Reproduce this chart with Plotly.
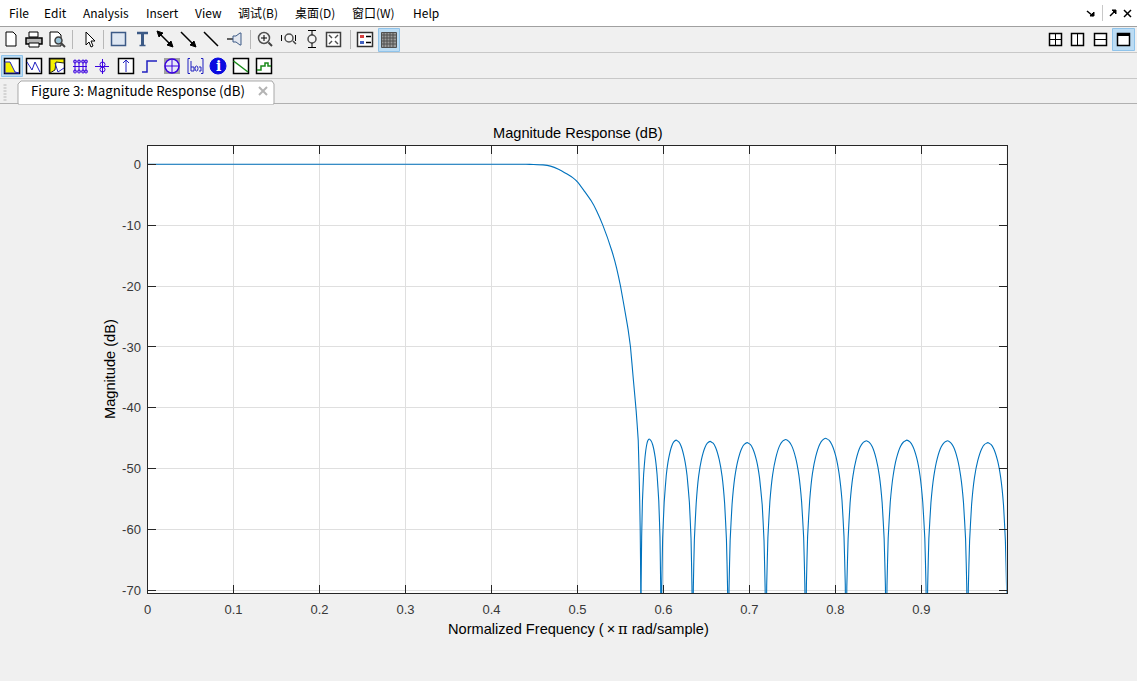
"""Magnitude response (dB) of a lowpass filter, shown inside an fvtool-style window."""

import plotly.graph_objects as go

W, H = 1137, 681

# ─── Data ────────────────────────────────────────────────────
pass_x = [0, 0.1, 0.2, 0.3, 0.4, 0.44, 0.449, 0.46, 0.4686, 0.478, 0.488, 0.4945, 0.5008, 0.508, 0.516,
          0.5225, 0.5295, 0.54, 0.5455, 0.5501, 0.557, 0.559, 0.5617, 0.565, 0.5683, 0.5707, 0.5716, 0.5724,
          0.573, 0.5734, 0.5736, 0.5737]
pass_db = [0, 0, 0, 0, 0, 0, -0.03, -0.1, -0.3, -0.8, -1.6, -2.2, -3.0, -4.4, -6.0,
           -7.7, -10, -14.2, -17, -20, -25.5, -27.2, -30, -35.3, -40.5, -45.3, -50, -55,
           -60, -65, -70, -85]

lobe_x = [
    [0.5741, 0.5747, 0.5756, 0.577, 0.5786, 0.5805, 0.5818, 0.5834, 0.5856, 0.5876, 0.5904, 0.5926, 0.5946, 0.596, 0.5968, 0.5974],
    [0.5981, 0.5991, 0.6009, 0.6033, 0.6061, 0.6096, 0.612, 0.6148, 0.6179, 0.6206, 0.6244, 0.6275, 0.6302, 0.6321, 0.6332, 0.634],
    [0.6348, 0.636, 0.6381, 0.6409, 0.6442, 0.6483, 0.6511, 0.6544, 0.6578, 0.6607, 0.6649, 0.6683, 0.6712, 0.6733, 0.6746, 0.6754],
    [0.6763, 0.6776, 0.6798, 0.6829, 0.6865, 0.6909, 0.694, 0.6975, 0.701, 0.704, 0.7084, 0.7118, 0.7149, 0.717, 0.7183, 0.7192],
    [0.7201, 0.7215, 0.7238, 0.727, 0.7307, 0.7352, 0.7384, 0.7421, 0.7458, 0.7491, 0.7538, 0.7575, 0.7607, 0.7631, 0.7645, 0.7654],
    [0.7663, 0.7677, 0.7701, 0.7733, 0.7771, 0.7817, 0.785, 0.7887, 0.7925, 0.7958, 0.8006, 0.8043, 0.8077, 0.81, 0.8115, 0.8124],
    [0.8133, 0.8148, 0.8171, 0.8204, 0.8242, 0.8289, 0.8322, 0.836, 0.8397, 0.8429, 0.8475, 0.8512, 0.8544, 0.8567, 0.8582, 0.859],
    [0.86, 0.8614, 0.8638, 0.8672, 0.871, 0.8758, 0.8792, 0.883, 0.8867, 0.89, 0.8947, 0.8984, 0.9016, 0.904, 0.9054, 0.9063],
    [0.9073, 0.9087, 0.9111, 0.9145, 0.9183, 0.9231, 0.9265, 0.9303, 0.934, 0.9373, 0.942, 0.9457, 0.949, 0.9514, 0.9528, 0.9537],
    [0.9546, 0.9561, 0.9584, 0.9617, 0.9655, 0.9702, 0.9735, 0.9773, 0.9809, 0.9841, 0.9887, 0.9923, 0.9955, 0.9977, 0.9991, 1.0],
]
lobe_db = [
    [-69.1, -61.2, -55.3, -50.9, -48.1, -46.1, -45.4, -45.1, -45.4, -46.1, -48.1, -50.9, -55.3, -61.2, -69.1, -85],
    [-69.3, -61.4, -55.5, -51.1, -48.3, -46.3, -45.6, -45.3, -45.6, -46.3, -48.3, -51.1, -55.5, -61.4, -69.3, -85],
    [-69.5, -61.6, -55.7, -51.3, -48.5, -46.5, -45.8, -45.5, -45.8, -46.5, -48.5, -51.3, -55.7, -61.6, -69.5, -85],
    [-69.7, -61.8, -55.9, -51.5, -48.7, -46.7, -46.0, -45.7, -46.0, -46.7, -48.7, -51.5, -55.9, -61.8, -69.7, -85],
    [-69.2, -61.3, -55.4, -51.0, -48.2, -46.2, -45.5, -45.2, -45.5, -46.2, -48.2, -51.0, -55.4, -61.3, -69.2, -85],
    [-69.0, -61.1, -55.2, -50.8, -48.0, -46.0, -45.3, -45.0, -45.3, -46.0, -48.0, -50.8, -55.2, -61.1, -69.0, -85],
    [-69.4, -61.5, -55.6, -51.2, -48.4, -46.4, -45.7, -45.4, -45.7, -46.4, -48.4, -51.2, -55.6, -61.5, -69.4, -85],
    [-69.3, -61.4, -55.5, -51.1, -48.3, -46.3, -45.6, -45.3, -45.6, -46.3, -48.3, -51.1, -55.5, -61.4, -69.3, -85],
    [-69.4, -61.5, -55.6, -51.2, -48.4, -46.4, -45.7, -45.4, -45.7, -46.4, -48.4, -51.2, -55.6, -61.5, -69.4, -85],
    [-69.7, -61.8, -55.9, -51.5, -48.7, -46.7, -46.0, -45.7, -46.0, -46.7, -48.7, -51.5, -55.9, -61.8, -69.7, -85],
]

x_ticks = [0, 0.1, 0.2, 0.3, 0.4, 0.5, 0.6, 0.7, 0.8, 0.9]
x_tick_labels = ["0", "0.1", "0.2", "0.3", "0.4", "0.5", "0.6", "0.7", "0.8", "0.9"]
y_ticks = [0, -10, -20, -30, -40, -50, -60, -70]
y_tick_labels = ["0", "-10", "-20", "-30", "-40", "-50", "-60", "-70"]

menu_items = ["File", "Edit", "Analysis", "Insert", "View", "调试(B)", "桌面(D)", "窗口(W)", "Help"]
menu_left = [8, 43, 82, 145, 194, 237, 294, 351, 412]

# ─── Theme ───────────────────────────────────────────────────
_BG = "#f0f0f0"
_AXIS = "#262626"
_TICK_TEXT = "#383838"
_GRID = "#dfdfdf"
_LINE = "#0072bd"
_EDGE = "#a0a0a0"
_HILITE = "#bcdcf4"
_HILITE_EDGE = "#8fc3ea"
_FONT = "Liberation Sans, Arial, sans-serif"
_UI_FONT = "Noto Sans CJK SC, sans-serif"
_PURPLE = "#3a00e0"


# ─── Window chrome helpers (pixel coordinates, y from the top) ───
def _fx(x):
    return x / W


def _fy(y):
    return 1 - y / H


shapes = []
annotations = []


def rect(x0, y0, x1, y1, fill="rgba(0,0,0,0)", line=None, width=1):
    shapes.append(dict(type="rect", xref="paper", yref="paper",
                       x0=_fx(x0), y0=_fy(y0), x1=_fx(x1), y1=_fy(y1),
                       fillcolor=fill, line=dict(color=line or "rgba(0,0,0,0)", width=width if line else 0)))


def seg(x0, y0, x1, y1, color="#000000", width=1):
    shapes.append(dict(type="line", xref="paper", yref="paper",
                       x0=_fx(x0), y0=_fy(y0), x1=_fx(x1), y1=_fy(y1),
                       line=dict(color=color, width=width)))


def poly(points, fill="rgba(0,0,0,0)", line="#000000", width=1, closed=True):
    d = "M " + " L ".join(f"{_fx(x):.5f},{_fy(y):.5f}" for x, y in points)
    if closed:
        d += " Z"
    shapes.append(dict(type="path", xref="paper", yref="paper", path=d,
                       fillcolor=fill, line=dict(color=line, width=width)))


def circle(x0, y0, x1, y1, fill="rgba(0,0,0,0)", line="#000000", width=1):
    shapes.append(dict(type="circle", xref="paper", yref="paper",
                       x0=_fx(x0), y0=_fy(y0), x1=_fx(x1), y1=_fy(y1),
                       fillcolor=fill, line=dict(color=line, width=width)))


def label(text, x, y, font, size, color="#000000", anchor="left", angle=0):
    annotations.append(dict(text=text, xref="paper", yref="paper", x=_fx(x), y=_fy(y),
                            xanchor=anchor, yanchor="middle", showarrow=False, textangle=angle,
                            borderpad=0, font=dict(family=font, size=size, color=color)))


def build_chrome():
    # bars and separators
    rect(0, 0, W, 26, fill="#ffffff")
    seg(0, 26.5, W, 26.5, _EDGE)
    seg(0, 52.5, W, 52.5, "#c8c8c8")
    seg(0, 78.5, W, 78.5, "#c8c8c8")
    seg(0, 103.5, W, 103.5, "#b0b0b0")
    for x in [72.5, 103.5, 250.5, 350.5]:
        seg(x, 30, x, 49, "#b8b8b8")
    seg(1102.5, 5, 1102.5, 21, "#c8c8c8")

    # tab
    poly([(18, 104), (18, 84), (21, 81), (272, 81), (274, 84), (274, 104)], fill="#ffffff", line="#a8a8a8")
    seg(19, 103.5, 273, 103.5, "#ffffff")
    for y in range(85, 101, 3):
        seg(3.5, y, 6.5, y, "#b8b8b8")
    seg(259, 87, 267, 95, "#b4b4b4", 2)
    seg(259, 95, 267, 87, "#b4b4b4", 2)

    # file tools
    poly([(6, 32), (13, 32), (16, 35), (16, 46), (6, 46)], fill="#ffffff")
    poly([(29, 37), (29, 32), (38, 32), (38, 37)], fill="#ffffff")
    poly([(26, 38), (42, 38), (42, 44), (26, 44)], fill="#b8b8b8", width=1.5)
    rect(29, 43, 39, 47, fill="#ffffff", line="#000000")
    poly([(50, 32), (58, 32), (61, 35), (61, 46), (50, 46)], fill="#ffffff")
    circle(55, 37, 62, 44, fill="#9cc4d8", line="#404040", width=1.5)
    seg(61, 43, 65, 47, "#404040", 2)

    # pointer, rectangle, text, arrows, pin
    poly([(86, 32), (86, 45), (89, 42), (91, 47), (93, 46), (91, 41), (95, 41)], fill="#ffffff")
    rect(111.5, 32.5, 125.5, 45.5, fill="#dfe7f2", line="#3c5a86", width=1.5)
    seg(137, 33, 148, 33, "#3c5a86", 2.5)
    seg(142.5, 33, 142.5, 45, "#3c5a86", 3)
    seg(139.5, 45.5, 145.5, 45.5, "#3c5a86", 1.5)
    seg(158, 32, 172, 46, "#000000", 1.5)
    poly([(157, 31), (163, 33), (159, 37)], fill="#000000")
    poly([(173, 47), (167, 45), (171, 41)], fill="#000000")
    seg(181, 32, 195, 46, "#000000", 1.5)
    poly([(196, 47), (190, 45), (194, 41)], fill="#000000")
    seg(204, 32, 218, 46, "#000000", 1.5)
    seg(227, 39, 233, 39, "#303030", 1.5)
    poly([(233, 36), (236, 36), (240, 33), (241, 33), (241, 45), (240, 45), (236, 42), (233, 42)], fill="#e4e8f0", line="#3c5a86")

    # zoom group
    circle(258.5, 32.5, 269.5, 43.5, fill="#f4f4f4", line="#505050", width=1.5)
    seg(261, 38, 267, 38, "#000000")
    seg(264, 35, 264, 41, "#000000")
    seg(268.5, 42.5, 272, 46, "#404040", 2)
    circle(285, 34, 293, 42, fill="#f4f4f4", line="#505050", width=1.5)
    seg(281.5, 35, 281.5, 41, "#000000")
    seg(295.5, 35, 295.5, 41, "#000000")
    seg(293, 41, 296, 44, "#404040", 1.5)
    circle(308, 35, 316, 43, fill="#f4f4f4", line="#505050", width=1.5)
    seg(308, 30.5, 316, 30.5, "#000000")
    seg(308, 47.5, 316, 47.5, "#000000")
    seg(312, 31, 312, 35, "#000000")
    seg(312, 43, 312, 47, "#000000")
    rect(326.5, 32.5, 340.5, 46.5, fill="#ffffff", line="#404040", width=1.5)
    for a, b, c, d in [(329, 35, 332, 38), (338, 35, 335, 38), (329, 44, 332, 41), (338, 44, 335, 41)]:
        seg(a, b, c, d, "#505050", 1.5)

    # legend, grid
    rect(357.5, 32.5, 372.5, 46.5, fill="#ffffff", line="#303030", width=1.5)
    rect(360, 35, 364, 38, fill="#d84040")
    rect(360, 41, 364, 44, fill="#4060c0")
    seg(366, 36.5, 371, 36.5, "#000000", 1.5)
    seg(366, 42.5, 371, 42.5, "#000000", 1.5)
    rect(378.5, 28.5, 399.5, 51.5, fill=_HILITE, line=_HILITE_EDGE)
    rect(381.5, 32.5, 396.5, 47.5, fill="#9a9a9a", line="#505050")
    for v in range(384, 396, 3):
        seg(v, 33, v, 47, "#505050")
    for v in range(35, 47, 3):
        seg(382, v, 396, v, "#505050")

    # right-hand layout buttons
    rect(1112.5, 28.5, 1134.5, 50.5, fill=_HILITE, line=_HILITE_EDGE)
    for x0 in [1049.5, 1071.5, 1094.5, 1117.5]:
        rect(x0, 33.5, x0 + 12, 45.5, fill="#ffffff", line="#000000", width=1.5)
    seg(1055.5, 33.5, 1055.5, 45.5)
    seg(1049.5, 39.5, 1061.5, 39.5)
    seg(1077.5, 33.5, 1077.5, 45.5)
    seg(1094.5, 39.5, 1106.5, 39.5)
    seg(1117.5, 35, 1129.5, 35, "#000000", 2)

    # top-right window controls
    seg(1087, 11, 1093, 16, "#000000", 1.5)
    poly([(1094, 16), (1090, 16), (1094, 12)], fill="#000000")
    seg(1110, 16, 1115, 11, "#000000", 1.5)
    poly([(1116, 10), (1112, 10), (1116, 14)], fill="#000000")
    seg(1124, 10, 1131, 17, "#000000", 1.5)
    seg(1124, 17, 1131, 10, "#000000", 1.5)

    # analysis toolbar
    rect(1.5, 55.5, 22.5, 76.5, fill=_HILITE, line=_HILITE_EDGE)
    for x0 in [4, 26, 49, 118, 233, 256]:
        rect(x0 + 0.5, 58.5, x0 + 15.5, 73.5, fill="#ffffff", line="#000000", width=1.5)
    poly([(5, 62), (10, 62), (15, 72), (19, 73), (5, 73)], fill="#f4f000", line="#2020c0")
    poly([(27, 62), (32, 70), (35, 62), (40, 72)], closed=False, line="#2020c0")
    poly([(50, 59), (64, 59), (64, 63), (56, 62), (55, 70), (50, 73)], fill="#f4f000", line="#202020")
    poly([(55, 63), (58, 72), (64, 68)], closed=False, line="#2020c0")
    for x0 in [73, 95]:
        seg(x0, 66.5, x0 + 14, 66.5, _PURPLE)
    for x in [75, 79, 83, 86]:
        seg(x, 60, x, 72, _PURPLE)
        circle(x - 1.5, 60, x + 1.5, 63, line=_PURPLE)
        circle(x - 1.5, 70, x + 1.5, 73, line=_PURPLE)
    seg(102.5, 59, 102.5, 74, _PURPLE)
    circle(100, 62, 105, 67, line=_PURPLE)
    circle(100, 67, 105, 72, line=_PURPLE)
    seg(126, 72, 126, 60, "#2020c0")
    poly([(123, 63), (126, 60), (129, 63)], closed=False, line="#2020c0")
    poly([(142, 72), (147, 72), (147, 61), (157, 61)], closed=False, line="#2020c0", width=1.5)
    rect(164, 58, 180, 74, fill="#a0a0a0")
    circle(165, 59, 179, 73, fill="#e8e8f8", line=_PURPLE, width=1.5)
    seg(165, 66, 179, 66, _PURPLE)
    seg(172, 59, 172, 73, _PURPLE)
    poly([(190, 58.5), (188, 58.5), (188, 73.5), (190, 73.5)], closed=False, line="#2020c0")
    poly([(201, 58.5), (203, 58.5), (203, 73.5), (201, 73.5)], closed=False, line="#2020c0")
    poly([(191, 61), (191, 71), (194, 71), (194, 67), (191, 67)], closed=False, line="#2020c0")
    circle(195, 66, 198, 71, line="#2020c0")
    poly([(199, 67), (201, 67), (201, 71), (199, 71)], closed=False, line="#2020c0")
    circle(210, 58, 226, 74, fill="#0a0ae0", line="#0a0ae0")
    seg(233.5, 61, 248, 72, "#1a8a1a", 1.5)
    poly([(257, 70), (261, 70), (261, 66), (265, 66), (265, 63), (268, 63), (268, 66), (271, 66)],
         closed=False, line="#1a8a1a", width=1.5)


build_chrome()

for item, left in zip(menu_items, menu_left):
    label(item, left, 12, _UI_FONT, 12)
label("Figure 3: Magnitude Response (dB)", 30, 90, _UI_FONT, 13.3)
label("<b>i</b>", 218, 66, "DejaVu Serif, serif", 14, "#ffffff", anchor="center")

# plot texts placed by pixel so the axes keep their exact box
label("Magnitude Response (dB)", 578, 133, _FONT, 14.6, anchor="center")
label('Normalized Frequency (\u2009×\u2009<span style="font-family:DejaVu Serif">π</span> rad/sample)',
      578, 628, _FONT, 14.6, anchor="center")
label("Magnitude (dB)", 110, 369, _FONT, 14.6, anchor="center", angle=-90)

# ─── Figure ──────────────────────────────────────────────────
curve_x = list(pass_x)
curve_db = list(pass_db)
for xs, ys in zip(lobe_x, lobe_db):
    curve_x += xs
    curve_db += ys

fig = go.Figure()
fig.add_trace(go.Scatter(
    x=curve_x,
    y=curve_db,
    mode="lines",
    line=dict(color=_LINE, width=1.1, shape="spline", smoothing=0.3),
    showlegend=False,
    hoverinfo="skip",
))

axis_common = dict(
    automargin=False,
    showgrid=True,
    gridcolor=_GRID,
    gridwidth=1,
    zeroline=False,
    showline=True,
    linecolor=_AXIS,
    linewidth=1,
    mirror="ticks",
    ticks="inside",
    ticklen=8,
    tickwidth=1,
    tickcolor=_AXIS,
    tickfont=dict(family=_FONT, size=13, color=_TICK_TEXT),
)

fig.update_layout(
    width=W,
    height=H,
    margin=dict(l=0, r=0, t=0, b=0),
    paper_bgcolor=_BG,
    plot_bgcolor="#ffffff",
    showlegend=False,
    xaxis=dict(
        axis_common,
        domain=[147.5 / W, 1006.5 / W],
        range=[0, 0.999],
        tickmode="array",
        tickvals=x_ticks,
        ticktext=x_tick_labels,
        ticklabelstandoff=4,
    ),
    yaxis=dict(
        axis_common,
        domain=[1 - 593 / H, 1 - 146 / H],
        range=[-70.4, 3.0],
        tickmode="array",
        tickvals=y_ticks,
        ticktext=y_tick_labels,
        ticklabelstandoff=3,
    ),
    shapes=shapes,
    annotations=annotations,
)

fig.write_html("out.html", config=dict(displayModeBar=False),
               post_script="document.body.style.margin='0';document.body.style.overflow='hidden';")
